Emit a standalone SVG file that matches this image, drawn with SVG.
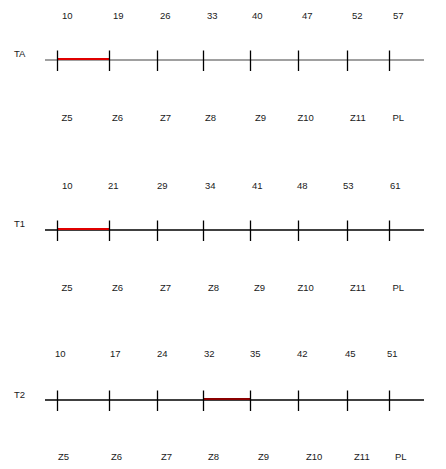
<svg xmlns="http://www.w3.org/2000/svg" width="446" height="469" viewBox="0 0 446 469">
<style>
text{font-family:"Liberation Sans",Arial,sans-serif;font-size:9.5px;fill:#1a1a1a}
.axis-grey{stroke:#808080;stroke-width:1.5}
.axis{stroke:#000;stroke-width:1.5}
.tick{stroke:#000;stroke-width:1.3}
.red{stroke:#e00000;stroke-width:2}
.dred{stroke:#8b0000;stroke-width:2}
</style>
<rect width="446" height="469" fill="#fff"/>
<defs>
<g id="ticks">
<line class="tick" x1="57.5" y1="-9.5" x2="57.5" y2="11"/>
<line class="tick" x1="109.5" y1="-9.5" x2="109.5" y2="11"/>
<line class="tick" x1="157.5" y1="-9.5" x2="157.5" y2="11"/>
<line class="tick" x1="203.5" y1="-9.5" x2="203.5" y2="11"/>
<line class="tick" x1="250.5" y1="-9.5" x2="250.5" y2="11"/>
<line class="tick" x1="298.5" y1="-9.5" x2="298.5" y2="11"/>
<line class="tick" x1="347.5" y1="-9.5" x2="347.5" y2="11"/>
<line class="tick" x1="389.5" y1="-9.5" x2="389.5" y2="11"/>
</g>
</defs>
<g id="row-TA">
<text x="14" y="57">TA</text>
<line class="axis-grey" x1="45" y1="60" x2="424" y2="60"/>
<line class="red" x1="57.5" y1="59" x2="109.5" y2="59"/>
<use href="#ticks" y="60"/>
<text x="62" y="18.5">10</text><text x="113" y="18.5">19</text><text x="160" y="18.5">26</text><text x="207" y="18.5">33</text><text x="252" y="18.5">40</text><text x="302" y="18.5">47</text><text x="352" y="18.5">52</text><text x="393" y="18.5">57</text>
<text x="61.5" y="120.5">Z5</text><text x="112" y="120.5">Z6</text><text x="160" y="120.5">Z7</text><text x="205" y="120.5">Z8</text><text x="255" y="120.5">Z9</text><text x="297.5" y="120.5">Z10</text><text x="350" y="120.5">Z11</text><text x="392.5" y="120.5">PL</text>
</g>
<g id="row-T1">
<text x="14" y="227">T1</text>
<line class="axis" x1="45" y1="230" x2="424" y2="230"/>
<line class="red" x1="57.5" y1="229" x2="109.5" y2="229"/>
<use href="#ticks" y="230"/>
<text x="62" y="188.5">10</text><text x="108" y="188.5">21</text><text x="157" y="188.5">29</text><text x="205" y="188.5">34</text><text x="252" y="188.5">41</text><text x="297" y="188.5">48</text><text x="343" y="188.5">53</text><text x="390" y="188.5">61</text>
<text x="61.5" y="290.5">Z5</text><text x="112" y="290.5">Z6</text><text x="160" y="290.5">Z7</text><text x="208" y="290.5">Z8</text><text x="254" y="290.5">Z9</text><text x="297.5" y="290.5">Z10</text><text x="350" y="290.5">Z11</text><text x="392.5" y="290.5">PL</text>
</g>
<g id="row-T2">
<text x="14" y="397.5">T2</text>
<line class="axis" x1="45" y1="400" x2="424" y2="400"/>
<line class="dred" x1="203.5" y1="399" x2="250.5" y2="399"/>
<use href="#ticks" y="400"/>
<text x="55" y="357">10</text><text x="110" y="357">17</text><text x="157" y="357">24</text><text x="204" y="357">32</text><text x="250" y="357">35</text><text x="297" y="357">42</text><text x="345" y="357">45</text><text x="387" y="357">51</text>
<text x="58" y="460">Z5</text><text x="111" y="460">Z6</text><text x="161" y="460">Z7</text><text x="208" y="460">Z8</text><text x="258" y="460">Z9</text><text x="306" y="460">Z10</text><text x="354" y="460">Z11</text><text x="395" y="460">PL</text>
</g>
</svg>
